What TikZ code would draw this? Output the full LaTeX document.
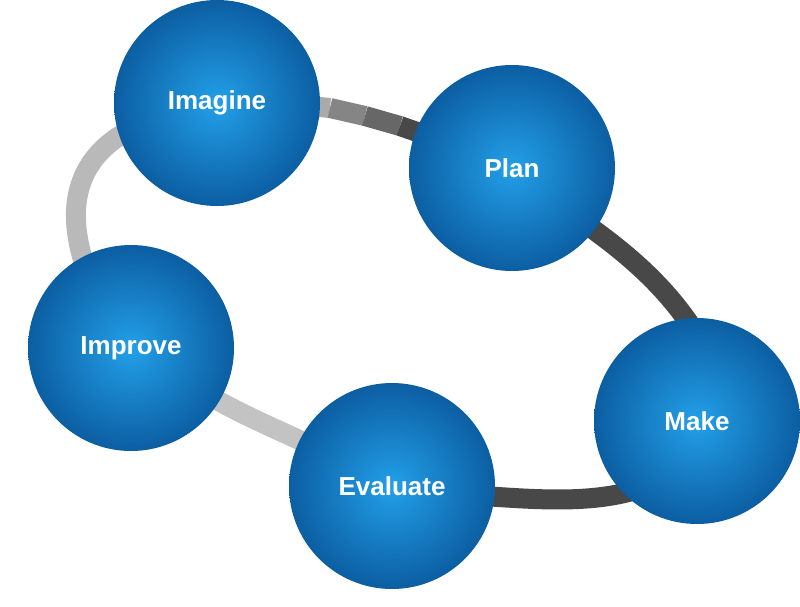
\documentclass[tikz,border=0pt]{standalone}
\usepackage{fontspec}
\setmainfont{Liberation Sans}
\begin{document}
\begin{tikzpicture}[x=1pt,y=-1pt,
  ball/.style={circle,minimum size=206pt,inner sep=0pt,shading=radial,inner color={rgb,255:red,34;green,160;blue,232},outer color={rgb,255:red,12;green,94;blue,162},text=white,font=\bfseries\fontsize{26}{28}\selectfont},
  band/.style={line width=20pt}]
\useasboundingbox (0,0) rectangle (800,606);
\definecolor{lg}{RGB}{195,195,195}
\definecolor{dg}{RGB}{72,72,72}
% ring
\coordinate (p1) at (330,108);
\coordinate (p2) at (365,116);
\coordinate (p3) at (400,126);
\coordinate (p4) at (440,140);
\draw[band,color=lg!80!dg] (290,104) -- (p1);
\draw[band,color=lg!50!dg] (p1) -- (p2);
\draw[band,color=lg!25!dg] (p2) -- (p3);
\draw[band,color=dg] (p3) -- (p4);
\draw[band,color=dg] (580,220) .. controls (630,255) and (670,290) .. (700,340);
\draw[band,color=dg] (650,485) .. controls (600,505) and (540,500) .. (470,495);
\draw[band,color=lg] (320,450) .. controls (280,430) and (240,415) .. (200,390);
\draw[band,color=lg!95!black] (90,280) .. controls (70,230) and (60,160) .. (140,125);
% balls
\node[ball] (imagine) at (217,103) {Imagine};
\node[ball] (plan) at (512,168) {Plan};
\node[ball] (make) at (697,421) {Make};
\node[ball] (evaluate) at (392,486) {Evaluate};
\node[ball] (improve) at (131,348) {Improve};
\end{tikzpicture}
\end{document}
